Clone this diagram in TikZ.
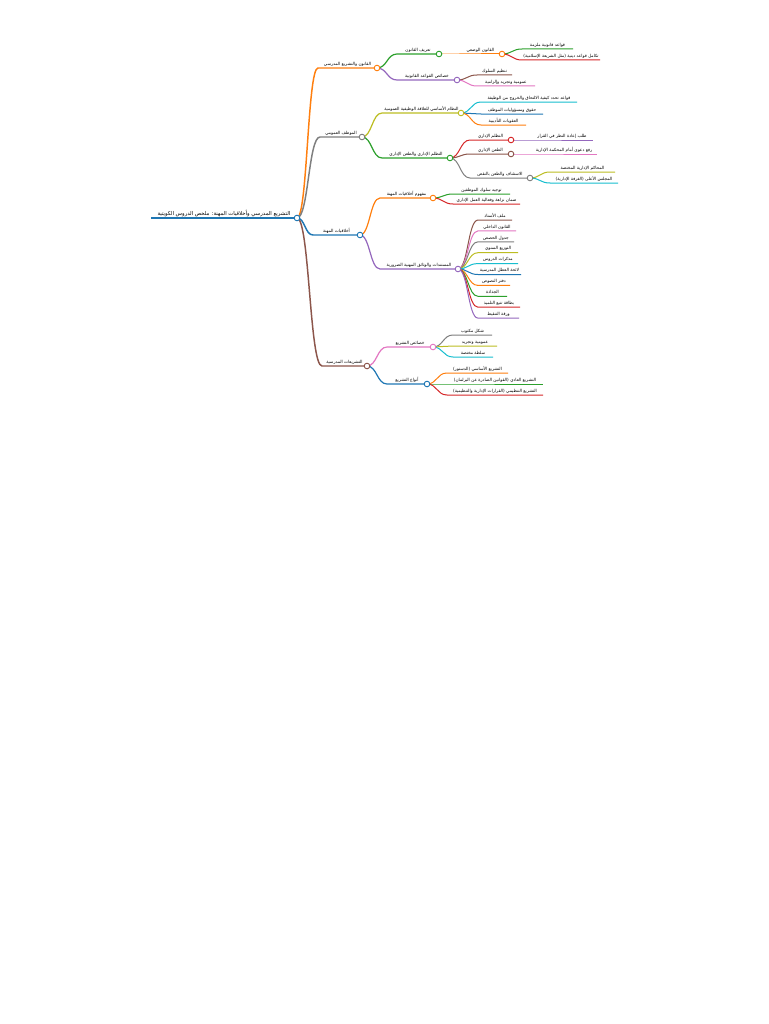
\documentclass[tikz,border=0pt]{standalone}
\usepackage{fontspec}
\newfontfamily\ar[Script=Arabic]{DejaVu Sans}
\TeXXeTstate=1
\usetikzlibrary{calc,backgrounds}
\definecolor{cBlue}{HTML}{1F77B4}
\definecolor{cOrange}{HTML}{FF7F0E}
\definecolor{cGreen}{HTML}{2CA02C}
\definecolor{cRed}{HTML}{D62728}
\definecolor{cPurple}{HTML}{9467BD}
\definecolor{cBrown}{HTML}{8C564B}
\definecolor{cPink}{HTML}{E377C2}
\definecolor{cGray}{HTML}{7F7F7F}
\definecolor{cOlive}{HTML}{BCBD22}
\definecolor{cCyan}{HTML}{17BECF}
\tikzset{
  mmtext/.style={font=\ar\fontsize{3.2}{4}\selectfont, inner sep=0pt, anchor=base, text=black},
  roottext/.style={font=\ar\fontsize{4.0}{5}\selectfont, inner sep=0pt, anchor=base, text=black},
  dot/.style={circle, fill=white, line width=0.7pt, inner sep=0pt, minimum size=4.2pt},
  w0/.style={line width=1.7pt},
  w1/.style={line width=1.1pt},
  w2/.style={line width=0.9pt},
  w3/.style={line width=0.75pt}
}
% name, x1, x2, y, text, style
\newcommand\mmnode[6]{%
  \coordinate (#1S) at (#2,#4);
  \coordinate (#1E) at (#3,#4);
  \node[#6] (#1T) at ({(#2+#3)/2},{#4-2.8}) {#5};}
% parent, child, color, width
\newcommand\mmlink[4]{%
  \draw[#3,#4] let \p1=(#1C.center), \p2=(#2S) in (#1C.center) .. controls ({(\x1+\x2)/2},\y1) and ({(\x1+\x2)/2},\y2) .. (#2S) -- (#2E);}
\newcommand\mmdot[2]{\node[dot, draw=#2] (#1C) at (#1E) {};}
\begin{document}
\begin{tikzpicture}[x=0.75pt,y=-0.75pt]
\useasboundingbox (0,0) rectangle (768,1024);
% ---- nodes ----
\mmnode{R}{151}{297}{218}{\beginR التشريع المدرسي وأخلاقيات المهنة: ملخص الدروس الكويتية\endR}{roottext}
\mmnode{A}{318}{377}{68}{\beginR القانون والتشريع المدرسي\endR}{mmtext}
\mmnode{Aa}{397}{439}{54}{\beginR تعريف القانون\endR}{mmtext}
\mmnode{Aaa}{459}{502}{54}{\beginR القانون الوضعي\endR}{mmtext}
\mmnode{Aaaa}{522}{573}{49}{\beginR قواعد قانونية ملزمة\endR}{mmtext}
\mmnode{Aaab}{522}{600}{60}{\beginR تكامل قواعد دينية (مثل الشريعة الإسلامية)\endR}{mmtext}
\mmnode{Ab}{397}{457}{80}{\beginR خصائص القواعد القانونية\endR}{mmtext}
\mmnode{Aba}{477}{512}{75}{\beginR تنظيم السلوك\endR}{mmtext}
\mmnode{Abb}{477}{535}{86}{\beginR عمومية وتجريد وإلزامية\endR}{mmtext}
\mmnode{B}{320}{362}{137}{\beginR الموظف العمومي\endR}{mmtext}
\mmnode{Ba}{382}{461}{113}{\beginR النظام الأساسي للعلاقة الوظيفية العمومية\endR}{mmtext}
\mmnode{Baa}{481}{577}{102}{\beginR قواعد تحدد كيفية الالتحاق والخروج من الوظيفة\endR}{mmtext}
\mmnode{Bab}{481}{543}{114}{\beginR حقوق ومسؤوليات الموظف\endR}{mmtext}
\mmnode{Bac}{481}{526}{125}{\beginR العقوبات التأديبية\endR}{mmtext}
\mmnode{Bb}{382}{450}{158}{\beginR التظلم الإداري والطعن الإداري\endR}{mmtext}
\mmnode{Bba}{470}{511}{140}{\beginR التظلم الإداري\endR}{mmtext}
\mmnode{Bbaa}{531}{593}{140}{\beginR طلب إعادة النظر في القرار\endR}{mmtext}
\mmnode{Bbb}{470}{511}{154}{\beginR الطعن الإداري\endR}{mmtext}
\mmnode{Bbba}{531}{597}{154}{\beginR رفع دعوى أمام المحكمة الإدارية\endR}{mmtext}
\mmnode{Bbc}{470}{530}{178}{\beginR الاستئناف والطعن بالنقض\endR}{mmtext}
\mmnode{Bbca}{550}{615}{172}{\beginR المحاكم الإدارية المختصة\endR}{mmtext}
\mmnode{Bbcb}{550}{618}{183}{\beginR المجلس الأعلى (الغرفة الإدارية)\endR}{mmtext}
\mmnode{C}{313}{360}{235}{\beginR أخلاقيات المهنة\endR}{mmtext}
\mmnode{Ca}{380}{433}{198}{\beginR مفهوم أخلاقيات المهنة\endR}{mmtext}
\mmnode{Caa}{453}{510}{194}{\beginR توجيه سلوك الموظفين\endR}{mmtext}
\mmnode{Cab}{453}{520}{204}{\beginR ضمان نزاهة وفعالية العمل الإداري\endR}{mmtext}
\mmnode{Cb}{380}{458}{269}{\beginR المستندات والوثائق المهنية الضرورية\endR}{mmtext}
\mmnode{La}{478}{512}{220.0}{\beginR ملف الأستاذ\endR}{mmtext}
\mmnode{Lb}{478}{516}{230.9}{\beginR القانون الداخلي\endR}{mmtext}
\mmnode{Lc}{478}{514}{241.8}{\beginR جدول الحصص\endR}{mmtext}
\mmnode{Ld}{478}{518}{252.7}{\beginR التوزيع السنوي\endR}{mmtext}
\mmnode{Le}{478}{518}{263.6}{\beginR مذكرات الدروس\endR}{mmtext}
\mmnode{Lf}{478}{521}{274.5}{\beginR لائحة العطل المدرسية\endR}{mmtext}
\mmnode{Lg}{478}{510}{285.4}{\beginR دفتر النصوص\endR}{mmtext}
\mmnode{Lh}{478}{507}{296.3}{\beginR الجذاذة\endR}{mmtext}
\mmnode{Li}{478}{520}{307.2}{\beginR بطاقة تتبع التلميذ\endR}{mmtext}
\mmnode{Lj}{478}{519}{318.1}{\beginR ورقة التنقيط\endR}{mmtext}
\mmnode{D}{322}{367}{366}{\beginR التشريعات المدرسية\endR}{mmtext}
\mmnode{Da}{387}{433}{347}{\beginR خصائص التشريع\endR}{mmtext}
\mmnode{Daa}{453}{492}{335}{\beginR شكل مكتوب\endR}{mmtext}
\mmnode{Dab}{453}{497}{346}{\beginR عمومية وتجريد\endR}{mmtext}
\mmnode{Dac}{453}{493}{357}{\beginR سلطة مختصة\endR}{mmtext}
\mmnode{Db}{387}{427}{384}{\beginR أنواع التشريع\endR}{mmtext}
\mmnode{Dba}{447}{508}{373}{\beginR التشريع الأساسي (الدستور)\endR}{mmtext}
\mmnode{Dbb}{447}{543}{384}{\beginR التشريع العادي (القوانين الصادرة عن البرلمان)\endR}{mmtext}
\mmnode{Dbc}{447}{543}{395}{\beginR التشريع التنظيمي (القرارات الإدارية والتنظيمية)\endR}{mmtext}
% ---- circles ----
\mmdot{R}{cBlue}
\mmdot{A}{cOrange}
\mmdot{Aa}{cGreen}
\mmdot{Aaa}{cOrange}
\mmdot{Ab}{cPurple}
\mmdot{B}{cGray}
\mmdot{Ba}{cOlive}
\mmdot{Bb}{cGreen}
\mmdot{Bba}{cRed}
\mmdot{Bbb}{cBrown}
\mmdot{Bbc}{cGray}
\mmdot{C}{cBlue}
\mmdot{Ca}{cOrange}
\mmdot{Cb}{cPurple}
\mmdot{D}{cBrown}
\mmdot{Da}{cPink}
\mmdot{Db}{cBlue}
% ---- links ----
\begin{scope}[on background layer]
\fill[white] (0,0) rectangle (768,1024);
\draw[cBlue,w0] (RS) -- (RC.center);
\mmlink{R}{A}{cOrange}{w1}
\mmlink{A}{Aa}{cGreen}{w2}
\mmlink{Aa}{Aaa}{cOrange}{w3}
\mmlink{Aaa}{Aaaa}{cGreen}{w3}
\mmlink{Aaa}{Aaab}{cRed}{w3}
\mmlink{A}{Ab}{cPurple}{w2}
\mmlink{Ab}{Aba}{cBrown}{w3}
\mmlink{Ab}{Abb}{cPink}{w3}
\mmlink{R}{B}{cGray}{w1}
\mmlink{B}{Ba}{cOlive}{w2}
\mmlink{Ba}{Baa}{cCyan}{w3}
\mmlink{Ba}{Bab}{cBlue}{w3}
\mmlink{Ba}{Bac}{cOrange}{w3}
\mmlink{B}{Bb}{cGreen}{w2}
\mmlink{Bb}{Bba}{cRed}{w3}
\mmlink{Bba}{Bbaa}{cPurple}{w3}
\mmlink{Bb}{Bbb}{cBrown}{w3}
\mmlink{Bbb}{Bbba}{cPink}{w3}
\mmlink{Bb}{Bbc}{cGray}{w3}
\mmlink{Bbc}{Bbca}{cOlive}{w3}
\mmlink{Bbc}{Bbcb}{cCyan}{w3}
\mmlink{R}{C}{cBlue}{w1}
\mmlink{C}{Ca}{cOrange}{w2}
\mmlink{Ca}{Caa}{cGreen}{w3}
\mmlink{Ca}{Cab}{cRed}{w3}
\mmlink{C}{Cb}{cPurple}{w2}
\mmlink{Cb}{La}{cBrown}{w3}
\mmlink{Cb}{Lb}{cPink}{w3}
\mmlink{Cb}{Lc}{cGray}{w3}
\mmlink{Cb}{Ld}{cOlive}{w3}
\mmlink{Cb}{Le}{cCyan}{w3}
\mmlink{Cb}{Lf}{cBlue}{w3}
\mmlink{Cb}{Lg}{cOrange}{w3}
\mmlink{Cb}{Lh}{cGreen}{w3}
\mmlink{Cb}{Li}{cRed}{w3}
\mmlink{Cb}{Lj}{cPurple}{w3}
\mmlink{R}{D}{cBrown}{w1}
\mmlink{D}{Da}{cPink}{w2}
\mmlink{Da}{Daa}{cGray}{w3}
\mmlink{Da}{Dab}{cOlive}{w3}
\mmlink{Da}{Dac}{cCyan}{w3}
\mmlink{D}{Db}{cBlue}{w2}
\mmlink{Db}{Dba}{cOrange}{w3}
\mmlink{Db}{Dbb}{cGreen}{w3}
\mmlink{Db}{Dbc}{cRed}{w3}
\end{scope}
\end{tikzpicture}
\end{document}
